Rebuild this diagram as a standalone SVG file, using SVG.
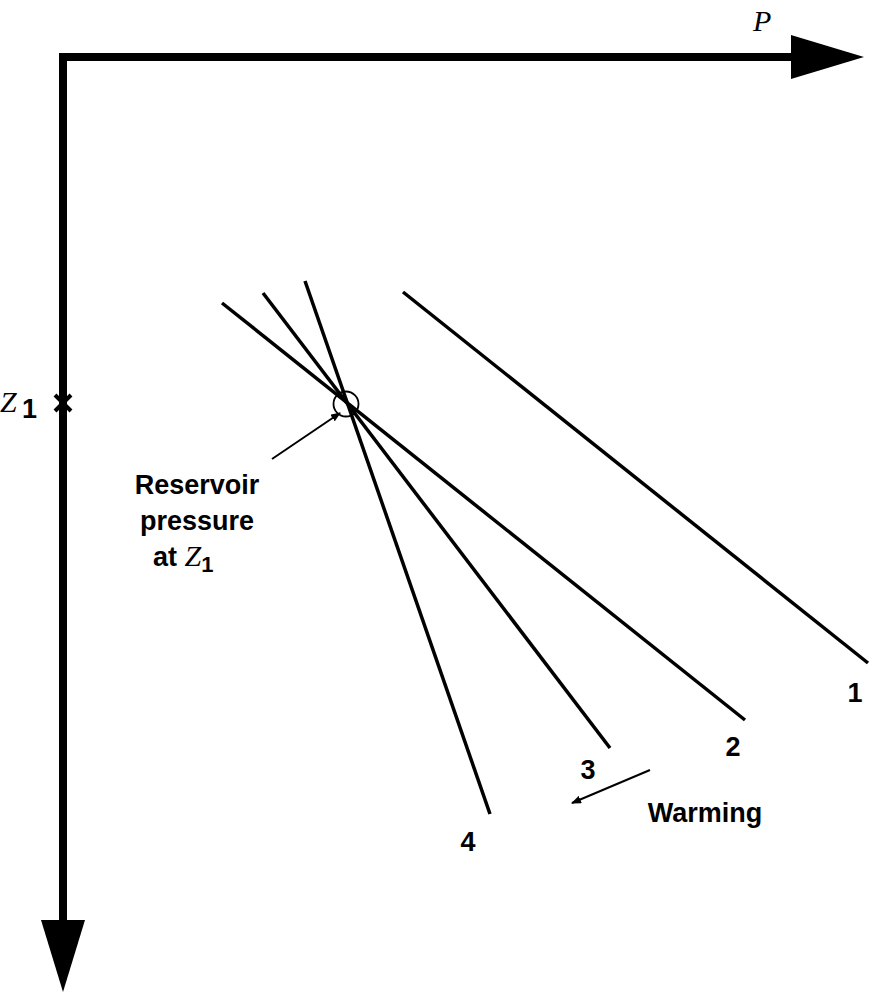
<svg xmlns="http://www.w3.org/2000/svg" width="879" height="995" viewBox="0 0 879 995">
<style>
.ln{stroke:#000;stroke-width:3.5;fill:none}
.t{font-family:"Liberation Sans",Arial,sans-serif;font-weight:bold;font-size:27px;fill:#000}
.m{font-family:"Liberation Serif","Times New Roman",serif;font-style:italic;font-size:30px;fill:#000}
</style>
<defs>
<marker id="ah" markerWidth="10" markerHeight="8" refX="9" refY="4" orient="auto" markerUnits="userSpaceOnUse" viewBox="0 0 10 8"><path d="M0,0 L10,4 L0,8z"/></marker>
</defs>
<g id="axes">
<path d="M63,920 V57 H792" stroke="#000" stroke-width="8" fill="none"/>
<path d="M791,35 L864,57 L791,79z"/>
<path d="M41,920 L63,992 L85,920z"/>
<text class="m" x="753" y="31">P</text>
<path d="M55,395 L71,411 M71,395 L55,411" stroke="#000" stroke-width="4"/>
<text class="m" x="0" y="412">Z</text><text class="t" x="22" y="418" font-size="22">1</text>
</g>
<g id="connectors">
<line class="ln" x1="403" y1="292" x2="868" y2="663"/>
<line class="ln" x1="222" y1="303" x2="745" y2="720"/>
<line class="ln" x1="263" y1="293" x2="610" y2="748"/>
<line class="ln" x1="305" y1="281" x2="490" y2="814"/>
<circle cx="346" cy="404" r="12.5" fill="none" stroke="#000" stroke-width="1.8"/>
<line x1="272" y1="459" x2="340" y2="413" stroke="#000" stroke-width="2" marker-end="url(#ah)"/>
<line x1="650" y1="770" x2="572" y2="803" stroke="#000" stroke-width="2" marker-end="url(#ah)"/>
</g>
<g id="labels">
<text class="t" x="855" y="702" text-anchor="middle">1</text>
<text class="t" x="733" y="756" text-anchor="middle">2</text>
<text class="t" x="588" y="779" text-anchor="middle">3</text>
<text class="t" x="468" y="851" text-anchor="middle">4</text>
<text class="t" x="705" y="822" text-anchor="middle">Warming</text>
<text class="t" x="197" y="494" text-anchor="middle">Reservoir</text>
<text class="t" x="197" y="530" text-anchor="middle">pressure</text>
<text class="t" x="153" y="566">at <tspan class="m" font-weight="normal">Z</tspan><tspan font-size="22" dy="6">1</tspan></text>
</g>
</svg>
